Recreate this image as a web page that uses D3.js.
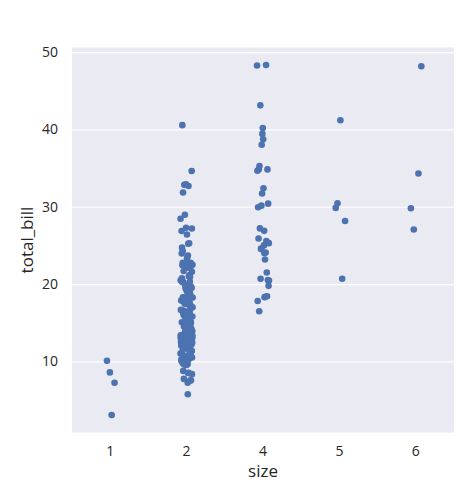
<!DOCTYPE html>
<html><head><meta charset="utf-8">
<script src="https://cdn.jsdelivr.net/npm/d3@7"></script>
<style>body{margin:0;background:#fff}svg{display:block}text{font-family:"Open Sans","Noto Sans",sans-serif;fill:#262626}</style>
</head><body><svg id="c" width="464" height="486"></svg>
<script>
const categories = ["1","2","4","5","6"];
const size1 = [3.07,10.07,7.25,8.58];
const size2 = [16.99,23.68,8.77,15.04,14.78,10.27,15.42,14.83,21.58,17.92,20.29,15.77,19.82,13.37,12.69,21.70,19.65,9.55,15.06,17.78,17.46,13.94,9.68,18.29,22.23,18.04,12.54,10.29,9.94,19.49,26.41,11.24,20.29,13.81,11.02,16.45,20.23,15.01,12.02,26.86,25.28,14.73,10.51,17.92,22.76,17.29,19.44,16.66,32.68,15.98,13.03,18.28,24.71,21.16,28.97,22.49,5.75,16.32,22.75,27.28,12.03,21.01,12.46,11.35,15.38,22.42,20.92,15.36,20.49,25.21,18.24,14.31,14.00,23.95,17.31,10.65,12.43,11.69,13.42,14.26,15.95,12.48,8.52,14.52,11.38,19.08,20.27,11.17,12.26,18.26,8.51,10.33,14.15,16.00,13.16,17.47,16.43,8.35,11.87,9.78,7.51,14.07,13.13,13.39,12.66,13.81,17.51,20.76,10.59,10.63,15.81,7.25,31.85,16.82,32.90,17.89,14.48,9.60,34.63,23.33,40.55,15.69,19.81,28.44,15.48,16.58,7.56,10.34,13.00,13.51,12.74,13.00,16.40,24.27,12.76,13.27,12.90,11.59,7.74,12.16,13.42,13.42,16.27,10.09,13.28,22.12,11.61,10.77,15.53,10.07,12.60,32.83,27.18,22.67,17.82,18.78];
const size4 = [24.59,25.29,26.88,35.26,18.43,39.42,17.81,18.35,20.69,30.40,32.40,34.81,25.56,38.01,48.27,18.29,27.20,34.83,40.17,29.93,24.08,24.55,19.77,25.00,16.49,21.50,31.71,34.65,23.17,43.11,20.53,38.73,25.89,48.33,30.14,20.45,24.01];
const size5 = [20.69,30.46,28.15,41.19,29.85];
const size6 = [29.80,34.30,27.05,48.17];
const yTicks = [10,20,30,40,50];
const xLabel = "size", yLabel = "total_bill";

const groups = [size1,size2,size4,size5,size6];
const allVals = groups.flat();
const lo = d3.min(allVals), hi = d3.max(allVals), pad = (hi-lo)*0.05;

const svg = d3.select("#c");
const L=72,R=454,T=47.5,B=432.5;
const x = d3.scaleBand().domain(categories).range([L,R]).padding(0);
const y = d3.scaleLinear().domain([lo-pad, hi+pad]).range([B,T]);

svg.append("rect").attr("x",L).attr("y",T).attr("width",R-L).attr("height",B-T).attr("fill","#EAEAF2");

const ya = svg.append("g").attr("transform",`translate(${L},0)`)
  .call(d3.axisLeft(y).tickValues(yTicks).tickSize(-(R-L)).tickPadding(14).tickFormat(d3.format("d")));
ya.select(".domain").remove();
ya.selectAll(".tick line").attr("stroke","#fff").attr("stroke-width",1.2);
ya.selectAll(".tick text").attr("font-size",14).attr("fill","#262626");

const xa = svg.append("g").attr("transform",`translate(0,${B})`)
  .call(d3.axisBottom(x).tickSize(0).tickPadding(14));
xa.select(".domain").remove();
xa.selectAll(".tick text").attr("font-size",14).attr("fill","#262626");

// deterministic jitter (golden-ratio sequence), +-0.08 of category width
const pts = [];
groups.forEach((g,gi)=>g.forEach((v,i)=>{
  const f = ((i+1)*0.6180339887 + gi*0.37) % 1;
  pts.push({c:categories[gi], v, j:(f-0.5)*2*0.08});
}));
svg.append("g").selectAll("circle").data(pts).join("circle")
  .attr("cx",d=>x(d.c)+x.bandwidth()/2 + d.j*x.bandwidth())
  .attr("cy",d=>y(d.v))
  .attr("r",3.3)
  .attr("fill","#4C72B0");

svg.append("text").attr("x",(L+R)/2).attr("y",477).attr("text-anchor","middle").attr("font-size",17).text(xLabel);
svg.append("text").attr("transform",`translate(33,${(T+B)/2}) rotate(-90)`).attr("text-anchor","middle").attr("font-size",17).text(yLabel);
</script></body></html>
